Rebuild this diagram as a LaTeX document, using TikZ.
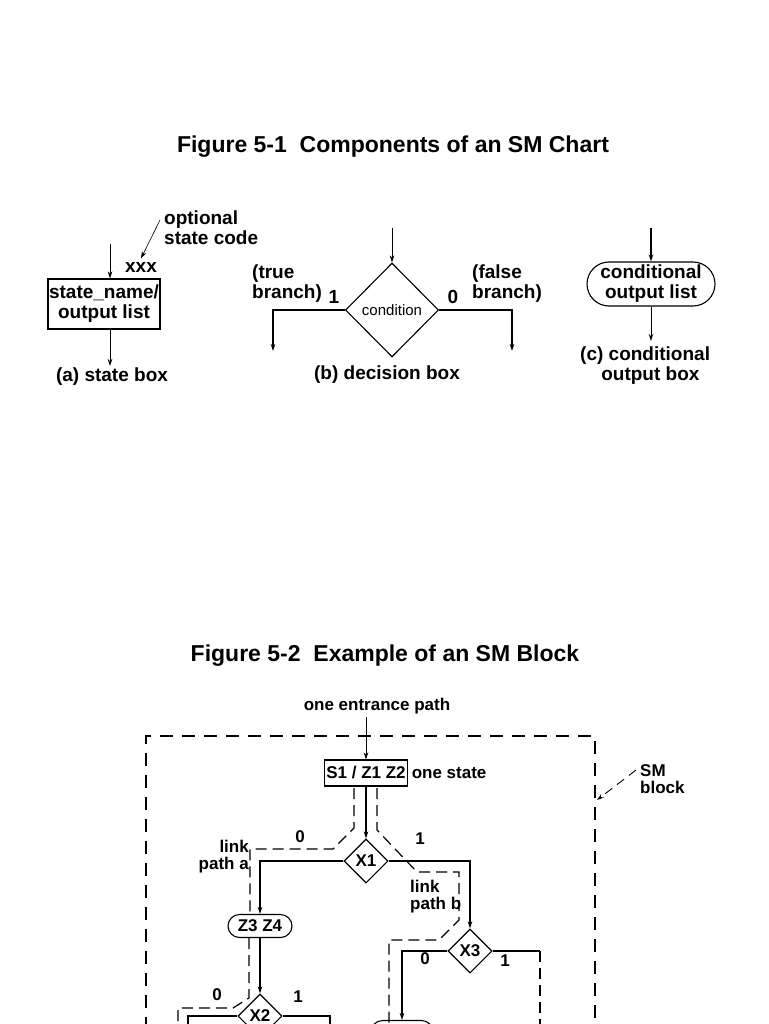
\documentclass[tikz,border=0pt]{standalone}
\usepackage{fontspec}
\setmainfont{Liberation Sans}
\usetikzlibrary{shapes.geometric,shapes.misc,arrows.meta}
\tikzset{
  every node/.style={font=\bfseries},
  big/.style={font=\fontsize{19}{20}\selectfont\bfseries},
  small/.style={font=\fontsize{17}{17}\selectfont\bfseries},
  state/.style={draw,line width=1.1pt,align=center,inner sep=3pt},
  decision/.style={draw,diamond,line width=1.1pt,inner sep=0pt},
  condout/.style={draw,rounded rectangle,line width=1.1pt,align=center,inner sep=1pt},
  arr/.style={-{Stealth[length=7pt,width=4.5pt]},line width=0.8pt},
  flow/.style={line width=1.1pt},
  link/.style={dash pattern=on 11pt off 6pt,line width=1.2pt},
}
\begin{document}
\begin{tikzpicture}[x=1pt,y=-1pt]
  \useasboundingbox (0,0) rectangle (768,1024);
  \clip (0,0) rectangle (768,1024);

  %% Figure 5-1
  \node[font=\fontsize{23}{26}\selectfont\bfseries] (t1) at (393,147) {Figure 5-1\ \ Components of an SM Chart};

  % (a) state box
  \node[state,big,inner sep=1pt,minimum width=112pt,minimum height=50pt] (sb) at (104,304) {state\_name/\\output list};
  \coordinate (sbin) at (110,244);
  \coordinate (sbout) at (110,366);
  \draw[arr] (sbin) -- (sb.north -| sbin);
  \draw[arr] (sb.south -| sbout) -- (sbout);
  \node[big] (xxx) at (141,267) {xxx};
  \node[big,align=left,anchor=west,inner sep=0pt] (opt) at (164,228) {optional\\state code};
  \coordinate (optend) at (160,220);
  \draw[arr,line width=0.6pt] (optend) -- (xxx.north);
  \node[big] (la) at (112,377) {(a) state box};

  % (b) decision box
  \node[decision,minimum width=93pt,minimum height=94pt] (db) at (392,310) {};
  \node[font=\fontsize{15}{15}\selectfont] (dbt) at (db) {condition};
  \coordinate (dbin) at (392,228);
  \coordinate (dbl) at (273,351);
  \coordinate (dbr) at (512,351);
  \draw[arr] (dbin) -- (db.north);
  \draw[arr,flow] (db.west) -| (dbl);
  \draw[arr,flow] (db.east) -| (dbr);
  \node[big,align=left,anchor=west,inner sep=0pt] (tb) at (252,284) {(true\\branch)};
  \node[big] (one) at (334,297) {1};
  \node[big] (zero) at (453,297) {0};
  \node[big,align=left,anchor=west,inner sep=0pt] (fb) at (472,284) {(false\\branch)};
  \node[big] (lb) at (387,375) {(b) decision box};

  % (c) conditional output box
  \node[condout,big,minimum width=130pt,minimum height=44pt] (cb) at (651,284) {conditional\\output list};
  \coordinate (cbin) at (651,228);
  \coordinate (cbout) at (651,341);
  \draw[arr,line width=1.2pt] (cbin) -- (cb.north);
  \draw[arr] (cb.south) -- (cbout);
  \node[big,align=left,anchor=west,inner sep=0pt] (lc) at (580,366) {(c) conditional\\\ \ \ \ output box};

  %% Figure 5-2
  \node[font=\fontsize{23}{26}\selectfont\bfseries] (t2) at (385,656) {Figure 5-2\ \ Example of an SM Block};
  \node[small] (ent) at (377,706) {one entrance path};
  \draw[dash pattern=on 13pt off 9pt,line width=1.3pt] (146,1030) -- (146,736) -- (595,736) -- (595,1030);
  \node[small,align=left,anchor=west,inner sep=0pt] (smb) at (640,779) {SM\\block};
  \coordinate (smbend) at (636,770);
  \draw[arr,dash pattern=on 9pt off 6pt,line width=0.9pt] (smbend) -- (597,800);

  \node[state,small,inner sep=2pt,minimum height=26pt] (s1) at (366,773) {S1 / Z1 Z2};
  \node[small,anchor=west] (os) at (s1.east) {one state};
  \draw[arr] (ent.south -| s1) -- (s1.north);

  \node[decision,small,minimum width=44pt,minimum height=44pt] (x1) at (366,861) {X1};
  \node[condout,small,minimum width=66pt,minimum height=23pt] (z34) at (260,926) {Z3 Z4};
  \node[decision,small,minimum width=44pt,minimum height=44pt] (x3) at (470,951) {X3};
  \node[decision,small,minimum width=44pt,minimum height=44pt] (x2) at (260,1016) {X2};
  \node[condout,small,minimum width=64pt,minimum height=23pt] (z5) at (402,1032) {Z5};

  \draw[arr,flow] (s1.south) -- (x1.north);
  \draw[arr,flow] (x1.west) -| (z34.north);
  \draw[arr,flow] (x1.east) -| (x3.north);
  \draw[arr,flow] (z34.south) -- (x2.north);
  \draw[arr,flow] (x3.west) -| (z5.north);
  \coordinate (x3r) at (540,1030);
  \coordinate (x2l) at (188,1030);
  \coordinate (x2r) at (330,1030);
  \draw[flow] (x3.east) -- (x3.east -| x3r);
  \draw[link] (x3.east -| x3r) -- (x3r);
  \draw[flow] (x2.west) -| (x2l);
  \draw[flow] (x2.east) -| (x2r);

  % link paths
  \draw[link] (354,788) -- (354,828) -- (333,849) -- (250,849) -- (250,915);
  \draw[link] (249,938) -- (249,998) -- (233,1008) -- (178,1008) -- (178,1030);
  \draw[link] (377,788) -- (377,830) -- (417,872) -- (459,872) -- (459,920) -- (439,940) -- (389,940) -- (389,1030);

  \node[small] (a0) at (300,837) {0};
  \node[small] (a1) at (420,839) {1};
  \node[small,align=right,anchor=east,inner sep=0pt] (lpa) at (249,857) {link\\path a};
  \node[small,align=left,anchor=west,inner sep=0pt] (lpb) at (410,897) {link\\path b};
  \node[small] (b0) at (425,959) {0};
  \node[small] (b1) at (505,961) {1};
  \node[small] (c0) at (217,995) {0};
  \node[small] (c1) at (298,997) {1};
\end{tikzpicture}
\end{document}
